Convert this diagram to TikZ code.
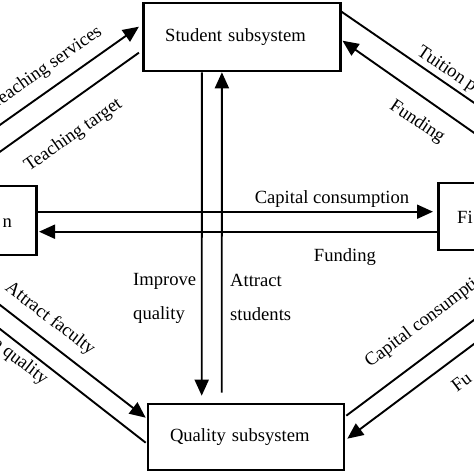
\documentclass[tikz,border=0pt]{standalone}
\usepackage{fontspec}
\setmainfont{Liberation Serif}
\usetikzlibrary{arrows.meta,calc}
\begin{document}
\begin{tikzpicture}[x=1pt,y=-1pt,
  txt/.style={font=\fontsize{18.6}{34}\selectfont},
  box/.style={draw, line width=2.6pt, inner sep=0pt, txt},
  conn/.style={line width=1.9pt},
  arr/.style={conn, -{Triangle[length=16pt,width=14pt]}},
  lab/.style={inner sep=0pt, txt},
]
\useasboundingbox (0,0) rectangle (474,474);
\clip (0,0) rectangle (474,474);

% boxes
\node[box, text width=153pt, align=left, inner xsep=22pt, minimum height=68pt] (stu) at (241.7,37) {Student subsystem};
\node[box, text width=152pt, align=left, inner xsep=22pt, minimum height=66pt] (qua) at (246,437) {Quality subsystem};
\node[box, minimum width=200pt, minimum height=69pt, anchor=east] (lb) at (38,220.5) {};
\node[lab, anchor=base east] (lbt) at (12,227) {n};
\node[box, minimum width=200pt, minimum height=67pt, anchor=west] (rb) at (437,216.5) {};
\node[lab, anchor=base west] (rbt) at (457,223) {Fi};

% free ends outside the visible crop
\coordinate (tsL) at (-20,139);
\coordinate (ttL) at (-20,166);
\coordinate (tpR) at (494,116.5);
\coordinate (fdR) at (494,146.8);
\coordinate (afL) at (-20,289.5);
\coordinate (iqL) at (-20,313.4);
\coordinate (ccR) at (494,305);
\coordinate (fbR) at (494,329);

% horizontal connectors
\draw[arr] ($(lb.north east)+(0,27)$) -- ($(rb.north west)+(-4,30)$);
\draw[arr] ($(rb.north west)+(0,50)$) -- ($(lb.north east)+(1,47)$);

% vertical connectors
\draw[arr] ($(stu.south west)+(60,0)$) -- ($(qua.north west)+(55,-7)$);
\draw[arr] ($(qua.north west)+(75,-10)$) -- ($(stu.south west)+(80,0)$);

% diagonal connectors
\draw[arr] (tsL) -- ($(stu.north west)+(-3,25)$);
\draw[arr] ($(stu.north west)+(-3,51)$) -- (ttL);
\draw[arr] ($(stu.north east)+(0,10)$) -- (tpR);
\draw[arr] (fdR) -- ($(stu.north east)+(1,39)$);
\draw[arr] (afL) -- ($(qua.north west)+(-1,15)$);
\draw[arr] ($(qua.north west)+(-1,40)$) -- (iqL);
\draw[arr] ($(qua.north east)+(1,13)$) -- (ccR);
\draw[arr] (fbR) -- ($(qua.north east)+(2,36)$);

% labels
\node[lab, rotate=35, anchor=base] (l1) at (48.5,72) {Teaching services};
\node[lab, rotate=35, anchor=base] (l2) at (76,139) {Teaching target};
\node[lab, rotate=-34, anchor=base west] (l3) at (416,54) {Tuition p};
\node[lab, rotate=-34] (l4) at (417,122) {Funding};
\node[lab, anchor=base] (l5) at (332,203) {Capital consumption};
\node[lab, anchor=base] (l6) at (345,261) {Funding};
\node[lab, anchor=north west, align=left] (l7) at (133,273) {Improve\\quality};
\node[lab, anchor=north west, align=left] (l8) at (230,274) {Attract\\students};
\node[lab, rotate=-37.5] (l9) at (50,319) {Attract faculty};
\node[lab, rotate=-37.5, anchor=base east] (l10) at (43,385) {e quality};
\node[lab, rotate=37, anchor=base west] (l11) at (370,368) {Capital consumpti};
\node[lab, rotate=37, anchor=base west] (l12) at (457,393) {Fu};
\end{tikzpicture}
\end{document}
